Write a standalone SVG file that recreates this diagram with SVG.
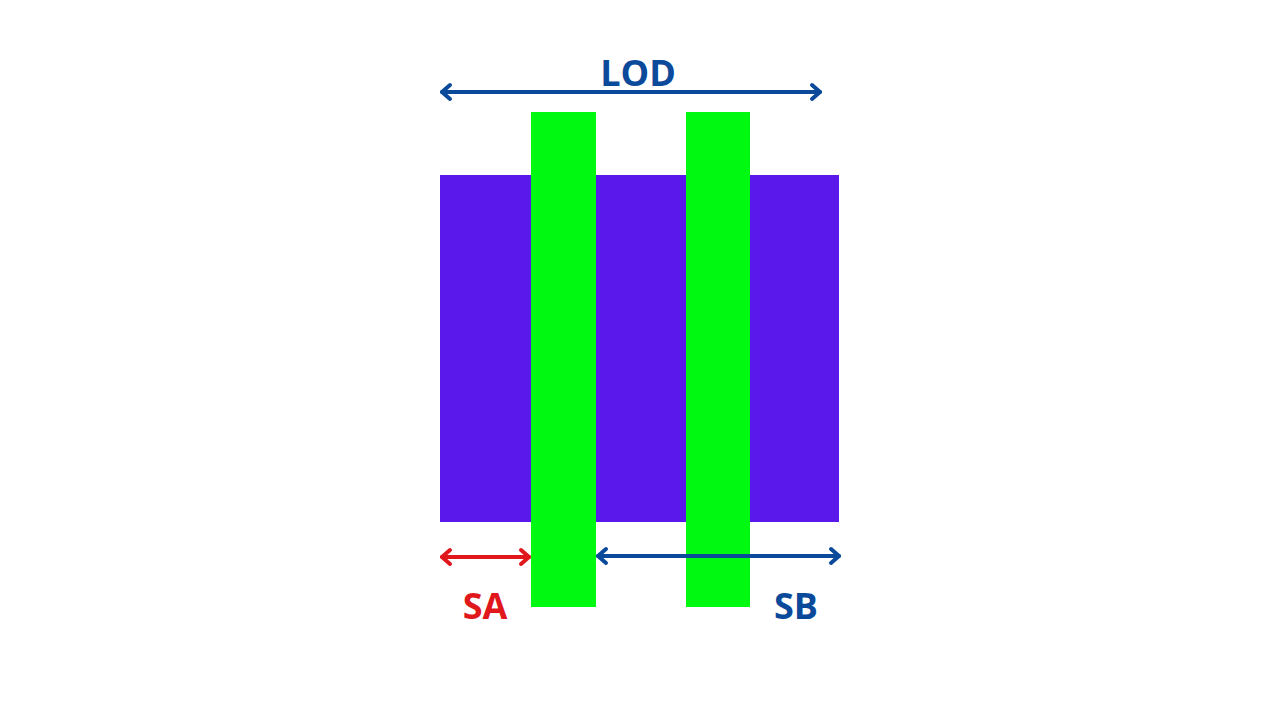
<svg xmlns="http://www.w3.org/2000/svg" width="1280" height="720" viewBox="0 0 1280 720">
<style>
.lbl{font-family:"Open Sans","Liberation Sans",sans-serif;font-weight:700;font-size:36px;text-anchor:middle}
.ln{fill:none;stroke-width:4;stroke-linecap:round;stroke-linejoin:round}
.blue{stroke:#0B4A9B}
.red{stroke:#E0171B}
</style>
<rect width="1280" height="720" fill="#ffffff"/>
<g id="substrate"><rect x="440" y="175" width="399" height="347" fill="#5B18EB"/></g>
<g id="gate1"><rect x="531" y="112" width="65" height="495" fill="#00F910"/></g>
<g id="gate2"><rect x="686" y="112" width="64" height="495" fill="#00F910"/></g>
<g id="connectors">
<g id="lod-arrow" class="ln blue">
<line x1="442" y1="92" x2="820" y2="92"/>
<polyline points="450,85 442,92 450,99"/>
<polyline points="812,85 820,92 812,99"/>
</g>
<g id="sa-arrow" class="ln red">
<line x1="442" y1="557" x2="529" y2="557"/>
<polyline points="450,550 442,557 450,564"/>
<polyline points="521,550 529,557 521,564"/>
</g>
<g id="sb-arrow" class="ln blue">
<line x1="598" y1="556" x2="839" y2="556"/>
<polyline points="606,549 598,556 606,563"/>
<polyline points="831,549 839,556 831,563"/>
</g>
</g>
<g id="labels">
<text class="lbl" x="638" y="86" fill="#0B4A9B">LOD</text>
<text class="lbl" x="485" y="619" fill="#E0171B">SA</text>
<text class="lbl" x="796" y="619" fill="#0B4A9B">SB</text>
</g>
</svg>
